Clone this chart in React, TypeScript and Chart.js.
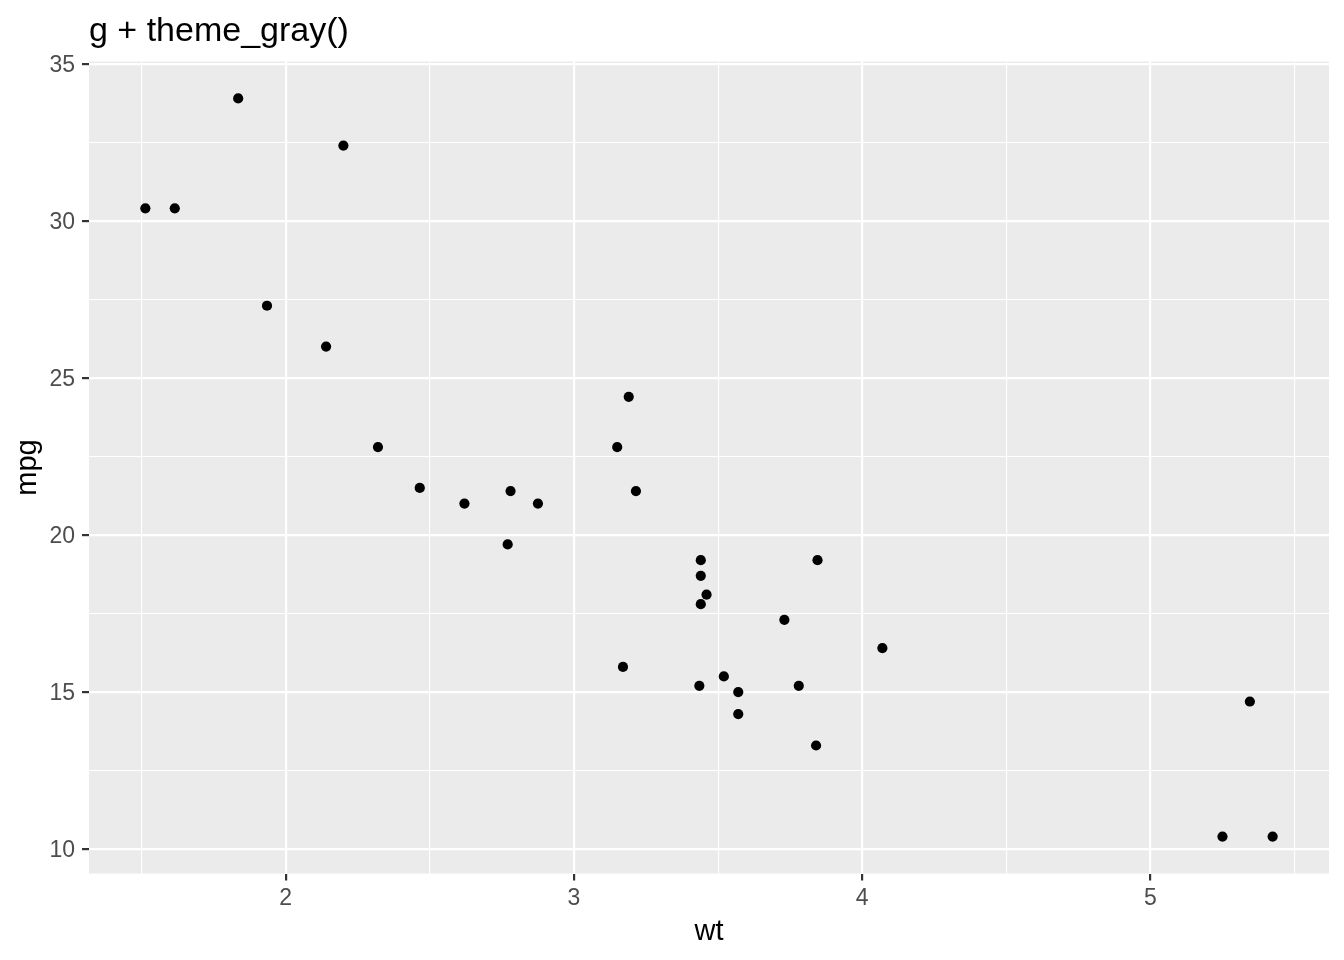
import React, { useEffect, useRef } from "react";
import { Chart, registerables } from "chart.js";

Chart.register(...registerables);

const wt = [2.62, 2.875, 2.32, 3.215, 3.44, 3.46, 3.57, 3.19, 3.15, 3.44, 3.44, 4.07, 3.73, 3.78, 5.25, 5.424, 5.345, 2.2, 1.615, 1.835, 2.465, 3.52, 3.435, 3.84, 3.845, 1.935, 2.14, 1.513, 3.17, 2.77, 3.57, 2.78];
const mpg = [21.0, 21.0, 22.8, 21.4, 18.7, 18.1, 14.3, 24.4, 22.8, 19.2, 17.8, 16.4, 17.3, 15.2, 10.4, 10.4, 14.7, 32.4, 30.4, 33.9, 21.5, 15.5, 15.2, 13.3, 19.2, 27.3, 26.0, 30.4, 15.8, 19.7, 15.0, 21.4];

const xTicks = [1.5, 2, 2.5, 3, 3.5, 4, 4.5, 5, 5.5];
const xLabels = ["", "2", "", "3", "", "4", "", "5", ""];
const yTicks = [10, 12.5, 15, 17.5, 20, 22.5, 25, 27.5, 30, 32.5, 35];
const yLabels = ["10", "", "15", "", "20", "", "25", "", "30", "", "35"];

const titleText = "g + theme_gray()";
const xTitle = "wt";
const yTitle = "mpg";

const FONT = "'Liberation Sans', Arial, sans-serif";

export default function App() {
  const ref = useRef<HTMLCanvasElement | null>(null);

  useEffect(() => {
    if (!ref.current) return;
    const xmin = Math.min(...wt), xmax = Math.max(...wt);
    const ymin = Math.min(...mpg), ymax = Math.max(...mpg);
    const xe = (xmax - xmin) * 0.05;
    const ye = (ymax - ymin) * 0.05;

    const isMajor = (labels: string[]) => (ctx: any) => {
      const i = ctx.index;
      return labels[i] !== undefined && labels[i] !== "";
    };
    const majX = isMajor(xLabels);
    const majY = isMajor(yLabels);

    const panelBg = {
      id: "panelBg",
      beforeDraw(chart: any) {
        const { ctx, chartArea: a } = chart;
        ctx.save();
        ctx.fillStyle = "#EBEBEB";
        ctx.fillRect(a.left, a.top, a.right - a.left, a.bottom - a.top);
        ctx.restore();
      },
      afterDraw(chart: any) {
        const { ctx, chartArea: a } = chart;
        const ys = chart.scales.y;
        ctx.save();
        ctx.fillStyle = "#000000";
        ctx.font = `34px ${FONT}`;
        ctx.textAlign = "left";
        ctx.textBaseline = "alphabetic";
        ctx.fillText(titleText, a.left, 41);
        ctx.fillStyle = "#4D4D4D";
        ctx.font = `23px ${FONT}`;
        ctx.textAlign = "right";
        ctx.textBaseline = "middle";
        yTicks.forEach((v, i) => {
          if (yLabels[i]) ctx.fillText(yLabels[i], a.left - 14, ys.getPixelForValue(v) + 1.5);
        });
        ctx.restore();
      },
    };

    const chart = new Chart(ref.current, {
      type: "scatter",
      data: {
        datasets: [
          {
            data: wt.map((x, i) => ({ x, y: mpg[i] })),
            backgroundColor: "#000000",
            borderWidth: 0,
            pointRadius: 5.1,
            pointHoverRadius: 5.1,
          },
        ],
      },
      options: {
        animation: false,
        responsive: false,
        events: [],
        layout: { padding: { top: 61.5, right: 15, left: 0, bottom: 0 } },
        plugins: { legend: { display: false }, tooltip: { enabled: false }, title: { display: false } },
        scales: {
          x: {
            type: "linear",
            min: xmin - xe,
            max: xmax + xe,
            afterBuildTicks: (s: any) => {
              s.ticks = xTicks.map((v) => ({ value: v }));
            },
            afterFit: (s: any) => {
              s.height = 86.5;
            },
            border: { display: false },
            grid: {
              color: "#FFFFFF",
              lineWidth: (c: any) => (majX(c) ? 2.2 : 1.1),
              drawTicks: true,
              tickLength: 7,
              tickWidth: 2.2,
              tickColor: (c: any) => (majX(c) ? "#333333" : "rgba(0,0,0,0)"),
            },
            ticks: {
              autoSkip: false,
              maxRotation: 0,
              padding: 4.5,
              color: "#4D4D4D",
              font: { family: FONT, size: 23 },
              callback: (_v: any, i: number) => xLabels[i],
            },
            title: {
              display: true,
              text: xTitle,
              color: "#000000",
              font: { family: FONT, size: 29 },
              padding: { top: 0, bottom: 11 },
            },
          },
          y: {
            type: "linear",
            min: ymin - ye,
            max: ymax + ye,
            afterBuildTicks: (s: any) => {
              s.ticks = yTicks.map((v) => ({ value: v }));
            },
            afterFit: (s: any) => {
              s.width = 89;
            },
            border: { display: false },
            grid: {
              color: "#FFFFFF",
              lineWidth: (c: any) => (majY(c) ? 2.2 : 1.1),
              drawTicks: true,
              tickLength: 7,
              tickWidth: 2.2,
              tickColor: (c: any) => (majY(c) ? "#333333" : "rgba(0,0,0,0)"),
            },
            ticks: {
              display: false,
              autoSkip: false,
              callback: (_v: any, i: number) => yLabels[i],
            },
            title: {
              display: true,
              text: yTitle,
              color: "#000000",
              font: { family: FONT, size: 29 },
              padding: { top: 11, bottom: 0 },
            },
          },
        },
      },
      plugins: [panelBg],
    });
    return () => chart.destroy();
  }, []);

  return (
    <div style={{ position: "absolute", left: 0, top: 0, width: 1344, height: 960, background: "#FFFFFF" }}>
      <canvas ref={ref} width={1344} height={960} style={{ width: 1344, height: 960, display: "block" }} />
    </div>
  );
}
